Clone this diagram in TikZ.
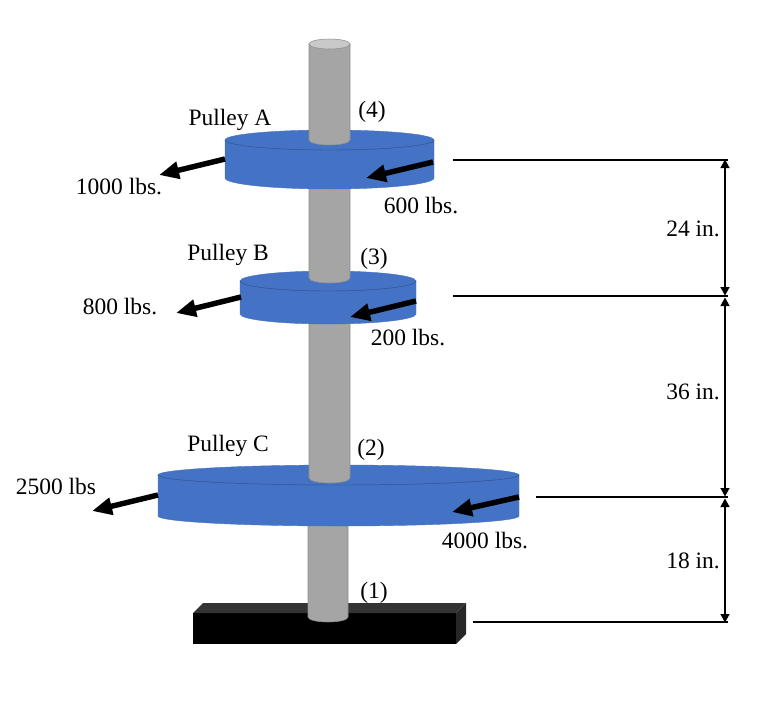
\documentclass[tikz,border=0pt]{standalone}
\usepackage{fontspec}
\setmainfont{Liberation Serif}
\usetikzlibrary{arrows.meta}
\definecolor{pulleyblue}{HTML}{4472C4}
\definecolor{pulleyedge}{HTML}{2F528F}
\definecolor{shaftgray}{HTML}{A5A5A5}
\definecolor{shafttop}{HTML}{C9C9C9}
\definecolor{shaftedge}{HTML}{8E8E8E}
\tikzset{
    pulley/.style={draw=pulleyblue,fill=pulleyblue,line width=.3pt},
    rim/.style={draw=pulleyedge,line width=.35pt},
    shaft/.style={draw=shaftedge,fill=shaftgray,line width=.4pt},
    load/.style={line width=4.1pt,-{Triangle[length=15pt,width=12.5pt]}},
    ext/.style={line width=2.2pt},
    dim/.style={line width=2pt,{Triangle[length=6.5pt,width=6.5pt]}-{Triangle[length=6.5pt,width=6.5pt]},shorten >=-.5pt,shorten <=-.5pt},
    lbl/.style={font=\fontsize{17.6}{20}\selectfont,inner sep=0pt}
}
\begin{document}
\begin{tikzpicture}[x=.75pt,y=-.75pt]
        \useasboundingbox (0,0) rectangle (778,704);

        % base
        \fill [black] (193,613) rectangle (456,644);
        \fill [black!80] (193,613) -- (203,603) -- (466,603) -- (456,613) -- cycle;
        \fill [black!85] (456,613) -- (466,603) -- (466,634) -- (456,644) -- cycle;

        % shaft (1)-(2)
        \draw [shaft] (308,520) -- (308,617) arc[start angle=180,end angle=0,x radius=20,y radius=5] -- (348,520) -- cycle;

        % pulley C
        \draw [pulley] (158,475) -- (158,516) arc[start angle=180,end angle=0,x radius=180.5,y radius=10] -- (519,475) -- cycle;
        \draw [pulley] (338.5,475) ellipse [x radius=180.5,y radius=10];
        \draw [rim] (158,475) arc[start angle=180,end angle=0,x radius=180.5,y radius=10];

        % shaft (2)-(3)
        \draw [shaft] (309,320) -- (309,478) arc[start angle=180,end angle=0,x radius=20.5,y radius=5] -- (350,320) -- cycle;

        % pulley B
        \draw [pulley] (240,281) -- (240,314) arc[start angle=180,end angle=0,x radius=88,y radius=10] -- (416,281) -- cycle;
        \draw [pulley] (328,281) ellipse [x radius=88,y radius=10];
        \draw [rim] (240,281) arc[start angle=180,end angle=0,x radius=88,y radius=10];

        % shaft (3)-(4)
        \draw [shaft] (309,185) -- (309,278) arc[start angle=180,end angle=0,x radius=20.5,y radius=5] -- (350,185) -- cycle;

        % pulley A
        \draw [pulley] (225,140) -- (225,178) arc[start angle=180,end angle=0,x radius=104.5,y radius=11] -- (434,140) -- cycle;
        \draw [pulley] (329.5,140) ellipse [x radius=104.5,y radius=10];
        \draw [rim] (225,140) arc[start angle=180,end angle=0,x radius=104.5,y radius=10];

        % shaft top
        \draw [shaft] (309,44) -- (309,140) arc[start angle=180,end angle=0,x radius=20.5,y radius=5] -- (350,44) -- cycle;
        \draw [shaft,fill=shafttop] (329.5,44) ellipse [x radius=20.5,y radius=5];

        % loads
        \coordinate (a1) at (225,159);  \coordinate (a2) at (159,175);
        \coordinate (a3) at (433,162);  \coordinate (a4) at (366,178);
        \coordinate (b1) at (241,297);  \coordinate (b2) at (176,313);
        \coordinate (b3) at (416,301);  \coordinate (b4) at (350,317);
        \coordinate (c1) at (158,495);  \coordinate (c2) at (92,511);
        \coordinate (c3) at (519,497);  \coordinate (c4) at (452,512);
        \draw [load] (a1) -- (a2);
        \draw [load] (a3) -- (a4);
        \draw [load] (b1) -- (b2);
        \draw [load] (b3) -- (b4);
        \draw [load] (c1) -- (c2);
        \draw [load] (c3) -- (c4);

        % dimensions
        \coordinate (e1) at (453,160);  \coordinate (f1) at (728,160);
        \coordinate (e2) at (453,296);  \coordinate (f2) at (728,296);
        \coordinate (e3) at (536,497);  \coordinate (f3) at (728,497);
        \coordinate (e4) at (473,622);  \coordinate (f4) at (728,622);
        \draw [ext] (e1) -- (f1);
        \draw [ext] (e2) -- (f2);
        \draw [ext] (e3) -- (f3);
        \draw [ext] (e4) -- (f4);
        \coordinate (d1) at (725,160);  \coordinate (d2) at (725,295);
        \coordinate (d3) at (725,298);  \coordinate (d4) at (725,496);
        \coordinate (d5) at (725,499);  \coordinate (d6) at (725,622);
        \draw [dim] (d1) -- (d2);
        \draw [dim] (d3) -- (d4);
        \draw [dim] (d5) -- (d6);

        \node (pulleyA) at (230,120) [lbl] {Pulley A};
        \node (pulleyB) at (228,255) [lbl] {Pulley B};
        \node (pulleyC) at (228,446) [lbl] {Pulley C};
        \node (sec4) at (372,112) [lbl] {(4)};
        \node (sec3) at (374,259) [lbl] {(3)};
        \node (sec2) at (371,450) [lbl] {(2)};
        \node (sec1) at (374,593) [lbl] {(1)};
        \node (f1000) at (119,187) [lbl] {1000 lbs.};
        \node (f600) at (421,206) [lbl] {600 lbs.};
        \node (f800) at (120,307) [lbl] {800 lbs.};
        \node (f200) at (408,338) [lbl] {200 lbs.};
        \node (f2500) at (56,486) [lbl] {2500 lbs};
        \node (f4000) at (485,541) [lbl] {4000 lbs.};
        \node (l24) at (693,229) [lbl] {24 in.};
        \node (l36) at (693,392) [lbl] {36 in.};
        \node (l18) at (693,561) [lbl] {18 in.};

    \end{tikzpicture}
\end{document}
